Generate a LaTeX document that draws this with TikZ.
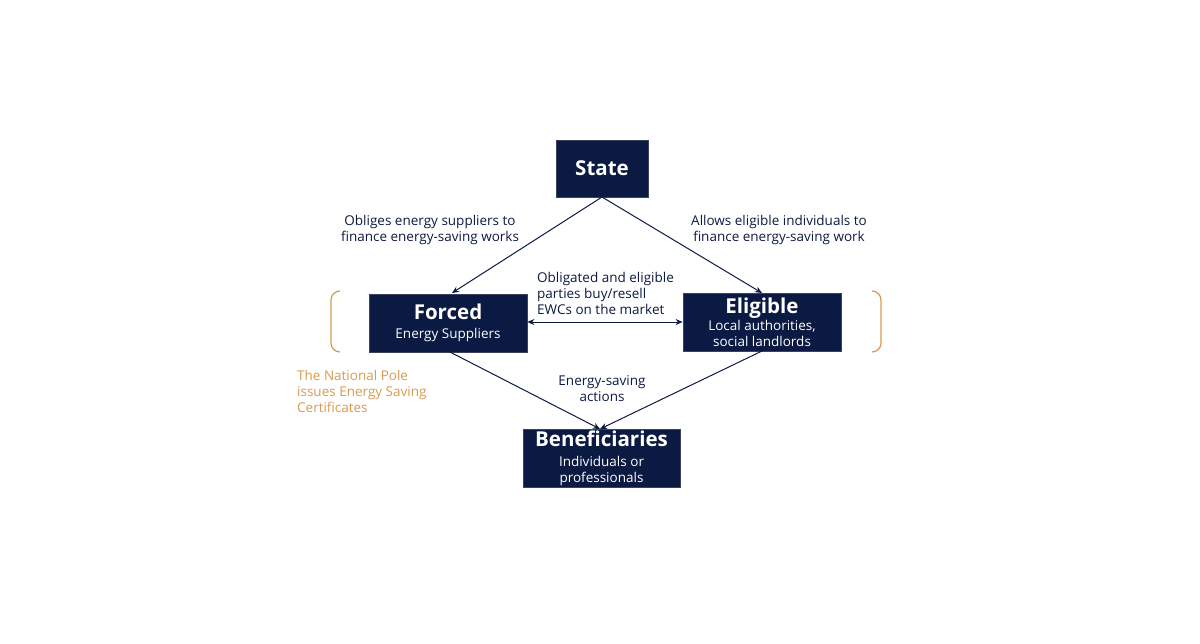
\documentclass[tikz,border=0pt]{standalone}
\usepackage{fontspec}
\setmainfont{Open Sans}
\usetikzlibrary{arrows.meta}
\definecolor{navy}{HTML}{0B1A42}
\definecolor{orng}{HTML}{D99A4E}
\newcommand{\ttlfont}{\fontsize{20.5}{22}\selectfont\bfseries}
\begin{document}
\begin{tikzpicture}[x=1pt,y=-1pt,
  box/.style={draw=navy!60!gray,line width=0.8pt,fill=navy,text=white,minimum width=#1,minimum height=58pt,inner sep=0pt,align=center,font=\fontsize{13.5}{16}\selectfont},
  box/.default=158pt,
  lbl/.style={text=navy,font=\fontsize{13.5}{16}\selectfont,inner sep=0pt},
  conn/.style={draw=navy,line width=1pt,-{Stealth[length=7pt,width=6pt]}},
  brk/.style={draw=orng,line width=1.2pt,rounded corners=9pt}]
\useasboundingbox (0,0) rectangle (1200,643);
\node[box=92pt,minimum height=57pt] (state) at (602,168.5) {{\ttlfont State}};
\node[box] (forced) at (448,323) {{\ttlfont Forced}\\[3pt]Energy Suppliers};
\node[box] (elig) at (762,322) {{\ttlfont Eligible}\\[1pt]Local authorities,\\social landlords};
\node[box=157pt] (benef) at (601.5,458) {{\ttlfont Beneficiaries}\\[4pt]Individuals or\\professionals};
\coordinate (sb) at (602,197);
\coordinate (ft) at (452,293);
\coordinate (et) at (762,293);
\coordinate (fb) at (448,351);
\coordinate (eb) at (762,351);
\coordinate (bt) at (600,429);
\draw[conn] (sb) -- (ft);
\draw[conn] (sb) -- (et);
\draw[conn] (fb) -- (bt);
\draw[conn] (eb) -- (bt);
\draw[draw=navy,line width=1pt,{Stealth[length=7pt,width=6pt]}-{Stealth[length=7pt,width=6pt]}] (forced.east |- elig.east) -- (elig.west);
\node[lbl,align=center] (l1) at (430,230) {Obliges energy suppliers to\\finance energy-saving works};
\node[lbl,align=center] (l2) at (779,230) {Allows eligible individuals to\\finance energy-saving work};
\node[lbl,align=left,anchor=west] (l3) at (537,293) {Obligated and eligible\\parties buy/resell\\EWCs on the market};
\node[lbl,align=center] (l4) at (602,389) {Energy-saving\\actions};
\node[lbl,align=left,anchor=west,text=orng] (l5) at (297,391) {The National Pole\\issues Energy Saving\\Certificates};
\draw[brk] (340,291) -- (331,291) -- (331,352) -- (340,352);
\draw[brk] (872,291) -- (881,291) -- (881,352) -- (872,352);
\end{tikzpicture}
\end{document}
